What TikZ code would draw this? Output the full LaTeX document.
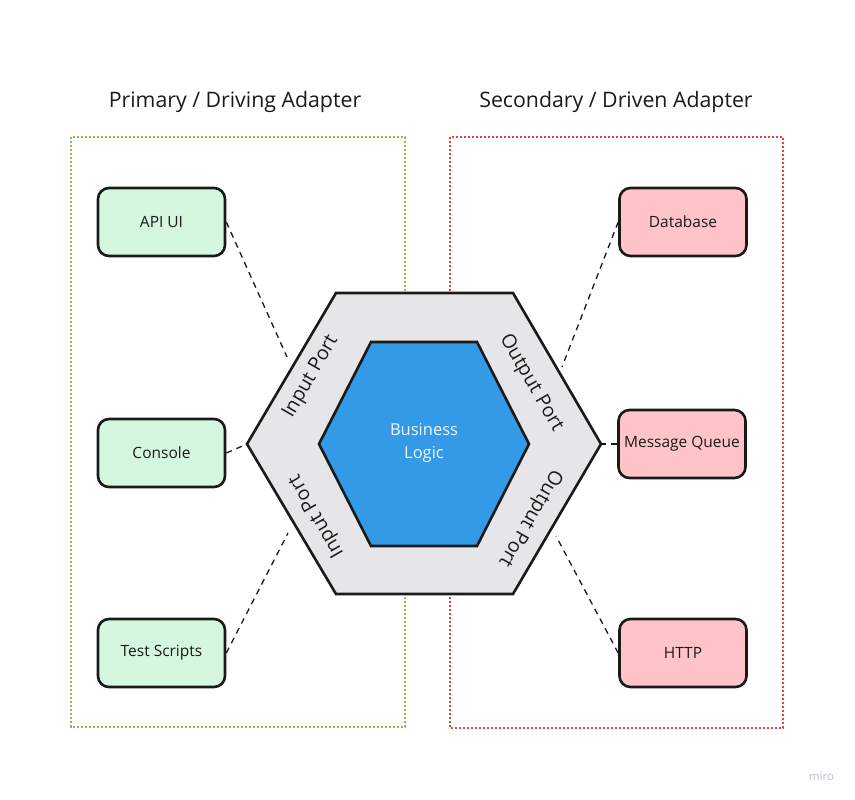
\documentclass[tikz,border=0pt]{standalone}
\usepackage{fontspec}
\setmainfont{Open Sans}
\definecolor{pgreen}{RGB}{214,247,223}
\definecolor{sred}{RGB}{255,196,200}
\definecolor{gframe}{RGB}{132,192,70}
\definecolor{rframe}{RGB}{224,68,58}
\definecolor{hexgray}{RGB}{230,230,233}
\definecolor{hexblue}{RGB}{50,154,230}
\definecolor{ink}{RGB}{26,26,26}
\definecolor{mirogray}{RGB}{185,190,200}
\tikzset{
  adbox/.style={draw=ink, line width=2.6pt, rounded corners=11pt, minimum width=127pt, minimum height=68pt, font=\fontsize{15.5}{18}\selectfont, text=ink},
  pbox/.style={adbox, fill=pgreen},
  sbox/.style={adbox, fill=sred},
  frame/.style={line width=2.8pt, dash pattern=on 2.2pt off 1.8pt},
  conn/.style={draw=ink, line width=1.3pt, dash pattern=on 6pt off 5pt},
  ttl/.style={font=\fontsize{21.3}{25}\selectfont, text=ink, anchor=base},
  port/.style={font=\fontsize{19.5}{22}\selectfont, text=ink, anchor=center},
  hexline/.style={draw=ink, line width=2.6pt, line join=miter}
}
\begin{document}
\begin{tikzpicture}[x=1pt,y=-1pt]
\useasboundingbox (0,0) rectangle (855,800);
\fill[white] (0,0) rectangle (855,800);
% titles
\node[ttl] (t1) at (235,108) {Primary / Driving Adapter};
\node[ttl] (t2) at (616,108) {Secondary / Driven Adapter};
% frames
\draw[frame, draw=gframe] (71,137) rectangle (405,727);
\draw[frame, draw=rframe] (450,137) rectangle (783,728);
% hexagons
\draw[hexline, fill=hexgray] (336,293) -- (513,293) -- (601,444) -- (513,594) -- (336,594) -- (247,444) -- cycle;
\draw[hexline, fill=hexblue] (371,342) -- (477,342) -- (529,444) -- (477,546) -- (371,546) -- (319,444) -- cycle;
\node[font=\fontsize{16.5}{23}\selectfont, text=white!92!hexblue, align=center] (bl) at (424,443) {Business\\Logic};
% port labels
\node[port, rotate=60] (ip1) at (311,377) {Input Port};
\node[port, rotate=120] (ip2) at (317,516) {Input Port};
\node[port, rotate=-60] (op1) at (531,383) {Output Port};
\node[port, rotate=240] (op2) at (530,518) {Output Port};
% attachment points
\coordinate (aUL) at (287,357);
\coordinate (aL) at (247,444);
\coordinate (aLL) at (288,533);
\coordinate (aUR) at (562,367);
\coordinate (aR) at (601,444);
\coordinate (aLR) at (556,536);
% adapters
\node[pbox] (api) at (161.5,222) {API UI};
\node[pbox] (console) at (161.5,453) {Console};
\node[pbox] (test) at (161.5,653) {Test Scripts};
\node[sbox] (db) at (683,222) {Database};
\node[sbox] (mq) at (682,444) {Message Queue};
\node[sbox] (http) at (683,653) {HTTP};
% connectors
\draw[conn] (api.east) -- (aUL);
\draw[conn] (console.east) -- (aL);
\draw[conn] (test.east) -- (aLL);
\draw[conn] (db.west) -- (aUR);
\draw[conn] (mq.west) -- (aR);
\draw[conn] (http.west) -- (aLR);
% watermark
\node[font=\fontsize{11.5}{14}\selectfont, text=mirogray] (miro) at (821.5,776) {miro};
\end{tikzpicture}
\end{document}
